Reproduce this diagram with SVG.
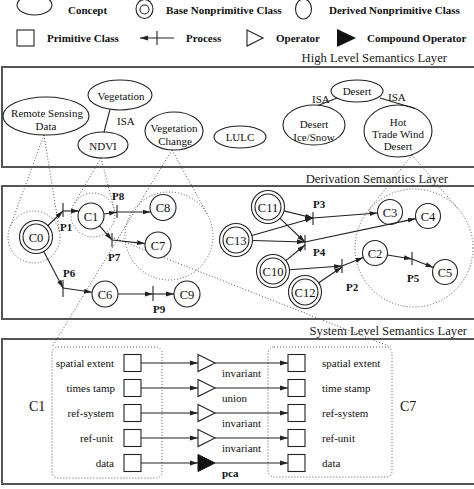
<svg xmlns="http://www.w3.org/2000/svg" width="474" height="489" viewBox="0 0 474 489">
<style>
.bg{fill:#fff}
.layer{fill:none;stroke:#555;stroke-width:2}
.ttl{font-family:"Liberation Serif",serif;font-size:12.7px;fill:#222;text-anchor:end}
.lg{font-family:"Liberation Serif",serif;font-size:11px;font-weight:bold;fill:#111}
.nd{fill:#fff;stroke:#222;stroke-width:1.1}
.t{font-family:"Liberation Serif",serif;font-size:11px;fill:#111;text-anchor:middle}
.tc{font-family:"Liberation Serif",serif;font-size:12.5px;fill:#111;text-anchor:middle}
.pl{font-family:"Liberation Serif",serif;font-size:11px;font-weight:bold;fill:#111}
.ln{fill:none;stroke:#222;stroke-width:1.1}
.ar{fill:none;stroke:#222;stroke-width:1.1;marker-end:url(#arr)}
.tk{stroke:#222;stroke-width:1.1}
.dot{fill:none;stroke:#555;stroke-width:1;stroke-dasharray:1 2}
.sl{font-family:"Liberation Serif",serif;font-size:11px;fill:#111}
.sr{font-family:"Liberation Serif",serif;font-size:11px;fill:#111;text-anchor:end}
.big{font-family:"Liberation Serif",serif;font-size:14px;fill:#111}
</style>
<defs>
<marker id="arr" markerUnits="userSpaceOnUse" markerWidth="8" markerHeight="6" refX="8" refY="3" orient="auto-start-reverse">
<path d="M0,0.6 L8,3 L0,5.4 z" fill="#222"/>
</marker>
</defs>
<rect class="bg" x="0" y="0" width="474" height="489"/>

<!-- legend -->
<g id="legend">
<ellipse class="nd" cx="34.5" cy="5" rx="17.5" ry="10"/>
<text class="lg" x="68" y="14">Concept</text>
<ellipse class="nd" cx="144.5" cy="9" rx="8.5" ry="9.5"/>
<circle class="nd" cx="144.5" cy="9.5" r="4.5"/>
<text class="lg" x="166" y="14">Base Nonprimitive Class</text>
<ellipse class="nd" cx="303.5" cy="9" rx="8" ry="10"/>
<text class="lg" x="329" y="14">Derived Nonprimitive Class</text>
<rect class="nd" x="17" y="30" width="17" height="16"/>
<text class="lg" x="47" y="42">Primitive Class</text>
<line x1="174" y1="38" x2="140" y2="38" class="ar"/>
<line class="tk" x1="157" y1="31" x2="157" y2="45"/>
<text class="lg" x="186" y="42">Process</text>
<polygon class="nd" points="247,30 263,38 247,46"/>
<text class="lg" x="276" y="42">Operator</text>
<polygon points="337,29 356,38 337,47" fill="#111"/>
<text class="lg" x="367" y="42">Compound Operator</text>
</g>

<!-- layers -->
<g id="layers">
<rect class="layer" x="2" y="67" width="490" height="100"/>
<text class="ttl" x="447" y="62">High Level Semantics Layer</text>
<rect class="layer" x="2" y="186" width="490" height="133"/>
<text class="ttl" x="448" y="183">Derivation Semantics Layer</text>
<rect class="layer" x="2" y="339" width="490" height="145"/>
<text class="ttl" x="467" y="335">System Level Semantics Layer</text>
</g>

<!-- dotted mapping lines and group circles -->
<g id="mapping">
<circle class="dot" cx="34" cy="237" r="26"/>
<circle class="dot" cx="93" cy="215" r="22"/>
<circle class="dot" cx="169" cy="236" r="44"/>
<circle class="dot" cx="414" cy="248" r="59"/>
<line class="dot" x1="44" y1="135" x2="9.7" y2="228"/>
<line class="dot" x1="44" y1="135" x2="59.7" y2="232.8"/>
<line class="dot" x1="101" y1="158" x2="74" y2="204"/>
<line class="dot" x1="101" y1="158" x2="114.3" y2="209.5"/>
<line class="dot" x1="172" y1="150" x2="52" y2="347"/>
<line class="dot" x1="172" y1="150" x2="207.6" y2="214.8"/>
<line class="dot" x1="412" y1="155" x2="367.6" y2="211.5"/>
<line class="dot" x1="412" y1="155" x2="458.8" y2="209.6"/>
<line class="dot" x1="114" y1="238" x2="391" y2="347"/>
<rect class="dot" x="52" y="347" width="110" height="131" rx="6"/>
<rect class="dot" x="268" y="347" width="124" height="130" rx="6"/>
</g>

<!-- high level concepts -->
<g id="n-remote"><ellipse class="nd" cx="46" cy="116" rx="43" ry="19"/><text class="t" x="47" y="116.5">Remote Sensing</text><text class="t" x="46" y="130">Data</text></g>
<g id="n-vegetation"><ellipse class="nd" cx="120" cy="95" rx="32" ry="15"/><text class="t" x="121" y="99.5">Vegetation</text></g>
<g id="n-ndvi"><ellipse class="nd" cx="103" cy="145" rx="25" ry="13"/><text class="t" x="103" y="149.5">NDVI</text></g>
<g id="n-vegchange"><ellipse class="nd" cx="174" cy="131" rx="29" ry="19"/><text class="t" x="174" y="132">Vegetation</text><text class="t" x="175" y="145">Change</text></g>
<g id="n-lulc"><ellipse class="nd" cx="240" cy="137" rx="26" ry="11"/><text class="t" x="240" y="141">LULC</text></g>
<g id="n-desert"><ellipse class="nd" cx="357" cy="91" rx="26" ry="11"/><text class="t" x="357" y="95">Desert</text></g>
<g id="n-icesnow"><ellipse class="nd" cx="314" cy="125" rx="31" ry="20"/><text class="t" x="314" y="128">Desert</text><text class="t" x="314" y="141">Ice/Snow</text></g>
<g id="n-hot"><ellipse class="nd" cx="398" cy="131" rx="34" ry="26"/><text class="t" x="398" y="126">Hot</text><text class="t" x="398" y="138">Trade Wind</text><text class="t" x="398" y="150">Desert</text></g>

<!-- derivation nodes -->
<g id="n-c0"><circle class="nd" cx="36" cy="237" r="16.5"/><circle class="nd" cx="36" cy="237" r="13"/><text class="tc" x="36" y="241.5">C0</text></g>
<g id="n-c1"><circle class="nd" cx="91" cy="216" r="13"/><text class="tc" x="91" y="220.5">C1</text></g>
<g id="n-c8"><circle class="nd" cx="163" cy="207.5" r="13"/><text class="tc" x="163" y="212">C8</text></g>
<g id="n-c7"><circle class="nd" cx="158" cy="245" r="13"/><text class="tc" x="158" y="249.5">C7</text></g>
<g id="n-c6"><circle class="nd" cx="105" cy="294" r="13"/><text class="tc" x="105" y="298.5">C6</text></g>
<g id="n-c9"><circle class="nd" cx="187" cy="294" r="13"/><text class="tc" x="187" y="298.5">C9</text></g>
<g id="n-c11"><circle class="nd" cx="268" cy="207" r="16.5"/><circle class="nd" cx="268" cy="207" r="13"/><text class="tc" x="268" y="211.5">C11</text></g>
<g id="n-c13"><circle class="nd" cx="236" cy="240" r="16.5"/><circle class="nd" cx="236" cy="240" r="13"/><text class="tc" x="236" y="244.5">C13</text></g>
<g id="n-c10"><circle class="nd" cx="273" cy="271" r="16.5"/><circle class="nd" cx="273" cy="271" r="13"/><text class="tc" x="273" y="275.5">C10</text></g>
<g id="n-c12"><circle class="nd" cx="305" cy="292" r="16.5"/><circle class="nd" cx="305" cy="292" r="13"/><text class="tc" x="305" y="296.5">C12</text></g>
<g id="n-c3"><circle class="nd" cx="390" cy="212" r="12.5"/><text class="tc" x="390" y="216.5">C3</text></g>
<g id="n-c4"><circle class="nd" cx="428" cy="216" r="12.5"/><text class="tc" x="428" y="220.5">C4</text></g>
<g id="n-c2"><circle class="nd" cx="375" cy="253" r="12.5"/><text class="tc" x="375" y="257.5">C2</text></g>
<g id="n-c5"><circle class="nd" cx="445" cy="272" r="12.5"/><text class="tc" x="445" y="276.5">C5</text></g>

<!-- system level nodes -->
<g id="n-sys-c1">
<text class="big" x="29" y="411">C1</text>
<text class="sr" x="114" y="367">spatial extent</text>
<text class="sr" x="115" y="392">times tamp</text>
<text class="sr" x="114" y="417">ref-system</text>
<text class="sr" x="113" y="442">ref-unit</text>
<text class="sr" x="114" y="467">data</text>
<rect class="nd" x="124" y="354.5" width="17" height="17"/>
<rect class="nd" x="124" y="379.5" width="17" height="17"/>
<rect class="nd" x="124" y="404.5" width="17" height="17"/>
<rect class="nd" x="124" y="429.5" width="17" height="17"/>
<rect class="nd" x="124" y="454.5" width="17" height="17"/>
</g>
<g id="n-operators">
<polygon class="nd" points="198,354.5 215,363 198,371.5"/>
<polygon class="nd" points="198,379.5 215,388 198,396.5"/>
<polygon class="nd" points="198,404.5 215,413 198,421.5"/>
<polygon class="nd" points="198,429.5 215,438 198,446.5"/>
<polygon points="198,454.5 215,463 198,471.5" fill="#111" stroke="#111"/>
<text class="sl" x="222" y="377">invariant</text>
<text class="sl" x="222" y="402">union</text>
<text class="sl" x="222" y="427">invariant</text>
<text class="sl" x="222" y="452">invariant</text>
<text class="pl" x="222" y="477">pca</text>
</g>
<g id="n-sys-c7">
<rect class="nd" x="288" y="354.5" width="17" height="17"/>
<rect class="nd" x="288" y="379.5" width="17" height="17"/>
<rect class="nd" x="288" y="404.5" width="17" height="17"/>
<rect class="nd" x="288" y="429.5" width="17" height="17"/>
<rect class="nd" x="288" y="454.5" width="17" height="17"/>
<text class="sl" x="322" y="367">spatial extent</text>
<text class="sl" x="322" y="392">time stamp</text>
<text class="sl" x="322" y="417">ref-system</text>
<text class="sl" x="322" y="442">ref-unit</text>
<text class="sl" x="322" y="467">data</text>
<text class="big" x="400" y="411">C7</text>
</g>

<!-- connectors -->
<g id="connectors">
<line class="ln" x1="110" y1="109.5" x2="104" y2="132"/>
<text class="sl" x="117" y="125">ISA</text>
<line class="ln" x1="337" y1="98" x2="318" y2="105.5"/>
<text class="sl" x="312" y="103">ISA</text>
<line class="ln" x1="380" y1="98" x2="415" y2="108.5"/>
<text class="sl" x="388" y="101">ISA</text>

<!-- P1 -->
<line class="ar" x1="47.5" y1="226" x2="63" y2="211"/>
<line class="tk" x1="63" y1="203" x2="63" y2="217"/>
<line class="ar" x1="63" y1="211" x2="79" y2="211"/>
<text class="pl" x="60" y="231">P1</text>
<!-- P8 -->
<line class="ar" x1="104" y1="214" x2="117" y2="212"/>
<line class="tk" x1="117" y1="205" x2="117" y2="218"/>
<line class="ar" x1="117" y1="212" x2="150.5" y2="212"/>
<text class="pl" x="112" y="200">P8</text>
<!-- P7 -->
<line class="ar" x1="99.6" y1="225.8" x2="112" y2="240"/>
<line class="tk" x1="112" y1="233" x2="112" y2="247"/>
<line class="ar" x1="112" y1="240" x2="145.1" y2="243.6"/>
<text class="pl" x="108" y="261">P7</text>
<!-- P6 -->
<line class="ar" x1="43.5" y1="251" x2="63" y2="288"/>
<line class="tk" x1="63" y1="280" x2="63" y2="297"/>
<line class="ar" x1="63" y1="288" x2="92.1" y2="292.2"/>
<text class="pl" x="63" y="277">P6</text>
<!-- P9 -->
<line class="ar" x1="118" y1="294" x2="153" y2="294"/>
<line class="tk" x1="153" y1="286" x2="153" y2="301"/>
<line class="ar" x1="153" y1="294" x2="174" y2="294"/>
<text class="pl" x="153" y="313">P9</text>
<!-- P3 -->
<line class="ar" x1="284" y1="210.9" x2="313" y2="218"/>
<line class="ar" x1="251.9" y1="235.5" x2="313" y2="218"/>
<line class="tk" x1="313" y1="212" x2="313" y2="225"/>
<line class="ar" x1="313" y1="218" x2="377.5" y2="213"/>
<text class="pl" x="313" y="208">P3</text>
<!-- P4 -->
<line class="ar" x1="280" y1="218.4" x2="305" y2="242"/>
<line class="ar" x1="252.5" y1="240.5" x2="305" y2="242"/>
<line class="ar" x1="285.8" y1="260.6" x2="305" y2="245"/>
<line class="tk" x1="305" y1="235" x2="305" y2="250"/>
<line class="ar" x1="305" y1="242" x2="415.8" y2="218.6"/>
<text class="pl" x="313" y="256">P4</text>
<!-- P2 -->
<line class="ar" x1="289.5" y1="269.8" x2="342" y2="266"/>
<line class="ar" x1="318.7" y1="282.8" x2="342" y2="267"/>
<line class="tk" x1="342" y1="259" x2="342" y2="273"/>
<line class="ar" x1="342" y1="266" x2="363.4" y2="257.6"/>
<text class="pl" x="346" y="291">P2</text>
<!-- P5 -->
<line class="ar" x1="387.3" y1="255" x2="412" y2="259"/>
<line class="tk" x1="412" y1="252" x2="412" y2="265"/>
<line class="ar" x1="412" y1="259" x2="433.4" y2="267.4"/>
<text class="pl" x="407" y="282">P5</text>

<!-- system level -->
<line class="ar" x1="141" y1="363" x2="198" y2="363"/>
<line class="ar" x1="141" y1="388" x2="198" y2="388"/>
<line class="ar" x1="141" y1="413" x2="198" y2="413"/>
<line class="ar" x1="141" y1="438" x2="198" y2="438"/>
<line class="ar" x1="141" y1="463" x2="198" y2="463"/>
<line class="ar" x1="215" y1="363" x2="288" y2="363"/>
<line class="ar" x1="215" y1="388" x2="288" y2="388"/>
<line class="ar" x1="215" y1="413" x2="288" y2="413"/>
<line class="ar" x1="215" y1="438" x2="288" y2="438"/>
<line class="ar" x1="215" y1="463" x2="288" y2="463"/>
</g>
</svg>
